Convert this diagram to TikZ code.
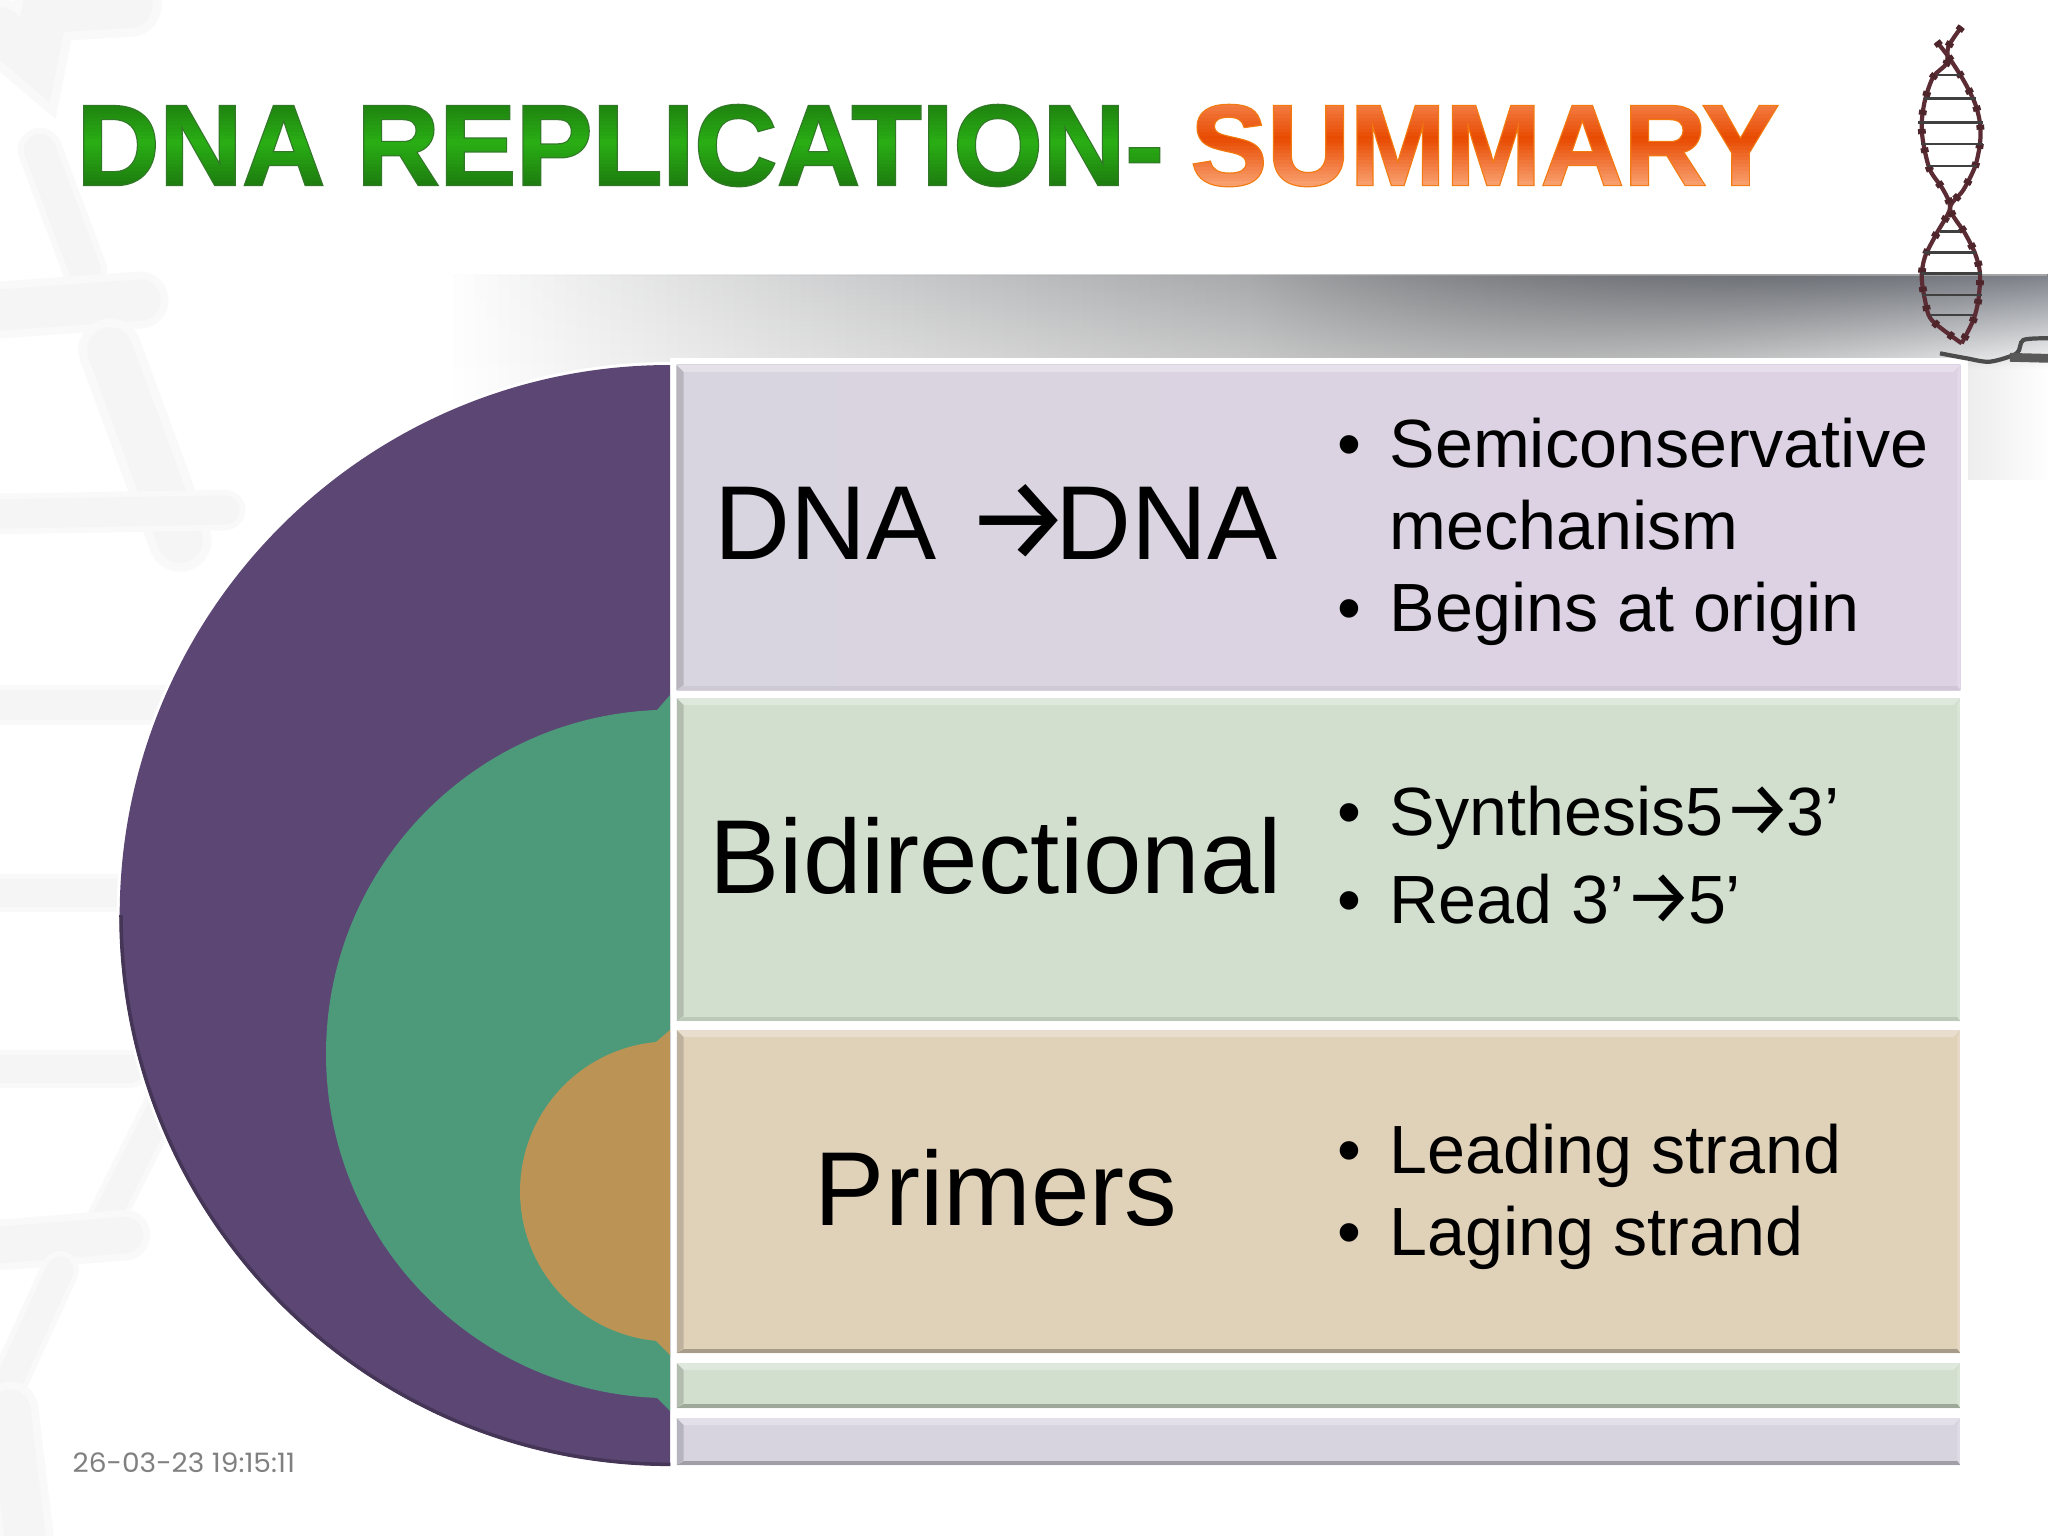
\documentclass[tikz,border=0pt]{standalone}
\usepackage{fontspec}
\usepackage{xcolor}
\usetikzlibrary{fadings}
\setmainfont{Liberation Sans}
\newfontface\titleface{Liberation Sans Bold}
\newfontfamily\stampfont[FakeStretch=1.05]{Poppins}
\newfontfamily\arrowfont[Scale=1.12]{Fira Sans}

\definecolor{outerpurple}{HTML}{5C4674}
\definecolor{midgreen}{HTML}{4D9A7B}
\definecolor{coreorange}{HTML}{BB9455}
\definecolor{panelgreen}{HTML}{D2DFCE}
\definecolor{paneltan}{HTML}{E0D1B9}
\definecolor{panellilac}{HTML}{D7D4E0}
\definecolor{helixred}{HTML}{5B2C33}
\definecolor{watermark}{HTML}{F6F5F6}
\definecolor{watermarksoft}{HTML}{FAF9FA}
\definecolor{bandtop}{HTML}{7F838B}
\definecolor{bandmid}{HTML}{CDCFD2}

\newcommand{\arr}{{\arrowfont →}}
\newcommand{\wmstroke}[2]{
    \draw[line width=#1*0.36pt, color=watermarksoft, line cap=round] #2;
    \draw[line width=#1*0.26pt, color=watermark, line cap=round] #2;
}

% thin strips of colour behind the title letters, one bp high
\gdef\stripsgreen{}
\gdef\stripsorange{}
\foreach \k in {-2,...,25} {
    \pgfmathsetmacro\tval{max(0,min(1,(\k+0.5)/24))}
    \pgfmathsetmacro\gmix{1-abs(2*\tval-1)}
    \pgfmathsetmacro\gr{(30+12*\gmix)/255}
    \pgfmathsetmacro\gg{(125+49*\gmix)/255}
    \pgfmathsetmacro\gb{(16+4*\gmix)/255}
    \xdef\stripsgreen{\stripsgreen\space\gr\space\gg\space\gb\space rg -330 \k\space 345 1.05 re f}
    \pgfmathsetmacro\omix{\tval<0.55 ? \tval/0.55 : (1-\tval)/0.45}
    \pgfmathsetmacro\oedger{\tval<0.55 ? 249 : 244}
    \pgfmathsetmacro\oedgeg{\tval<0.55 ? 160 : 131}
    \pgfmathsetmacro\oedgeb{\tval<0.55 ? 112 : 76}
    \pgfmathsetmacro\ogr{(\oedger+(232-\oedger)*\omix)/255}
    \pgfmathsetmacro\ogg{(\oedgeg+(74-\oedgeg)*\omix)/255}
    \pgfmathsetmacro\ogb{(\oedgeb+(0-\oedgeb)*\omix)/255}
    \xdef\stripsorange{\stripsorange\space\ogr\space\ogg\space\ogb\space rg -330 \k\space 345 1.05 re f}
}
\newcommand{\gradtitle}[3]{\special{pdf:code q 6 Tr 0.7 w #1 RG}#3\special{pdf:content #2}\special{pdf:code Q}}

\pgfdeclarehorizontalshading{bandfadeshade}{100bp}{color(0bp)=(pgftransparent!100); color(25bp)=(pgftransparent!100); color(50bp)=(pgftransparent!72); color(75bp)=(pgftransparent!0); color(100bp)=(pgftransparent!0)}
\pgfdeclarefading{bandfade}{\pgfuseshading{bandfadeshade}}
\pgfdeclareverticalshading{bandshade}{100bp}{color(0bp)=(white); color(52bp)=(white); color(61bp)=(bandmid); color(75bp)=(bandtop); color(100bp)=(bandtop)}

\begin{document}
\begin{tikzpicture}[x=0.01cm,y=-0.01cm]
            \tikzset{strand/.style={line width=1.2pt, color=helixred}};
            \tikzset{beads/.style={line width=2.2pt, color=helixred!85!black, dash pattern=on 1.4pt off 4pt}};
            \tikzset{rung/.style={line width=0.8pt, color=black!75}};
            \tikzset{titletext/.style={anchor=base west, inner sep=0pt, font=\titleface\fontsize{32.6}{36}\selectfont}};
            \tikzset{maintext/.style={anchor=base, inner sep=0pt, font=\fontsize{29.9}{34}\selectfont}};
            \tikzset{itemtext/.style={anchor=base west, inner sep=0pt, font=\fontsize{19.4}{23}\selectfont}};
            \tikzset{panel/.style={inner sep=0pt, outer sep=0pt, minimum width=12.83cm, path picture={
                \fill[white,opacity=0.3] (path picture bounding box.north west) -- (path picture bounding box.north east)
                    -- ([shift={(-.07cm,-.07cm)}]path picture bounding box.north east) -- ([shift={(.07cm,-.07cm)}]path picture bounding box.north west) -- cycle;
                \fill[black,opacity=0.15] (path picture bounding box.north west) -- (path picture bounding box.south west)
                    -- ([shift={(.07cm,.05cm)}]path picture bounding box.south west) -- ([shift={(.07cm,-.07cm)}]path picture bounding box.north west) -- cycle;
                \fill[black,opacity=#1] (path picture bounding box.south west) -- (path picture bounding box.south east)
                    -- ([shift={(-.03cm,.04cm)}]path picture bounding box.south east) -- ([shift={(.07cm,.04cm)}]path picture bounding box.south west) -- cycle;
                \fill[white,opacity=0.2] (path picture bounding box.north east) -- (path picture bounding box.south east)
                    -- ([shift={(-.03cm,.04cm)}]path picture bounding box.south east) -- ([shift={(-.03cm,-.07cm)}]path picture bounding box.north east) -- cycle;
            }}};

            \useasboundingbox (0,0) rectangle (2048,1536);
            \fill[white] (0,0) rectangle (2048,1536);

            % faint molecule at the left
            \wmstroke{50}{(0,30) -- (35,60) -- (45,10) -- (130,5)}
            \wmstroke{35}{(40,150) -- (85,270)}
            \wmstroke{45}{(0,310) -- (140,300)}
            \wmstroke{50}{(110,350) -- (180,540)}
            \wmstroke{32}{(0,514) -- (225,510)}
            \wmstroke{32}{(0,705) -- (170,705)}
            \wmstroke{30}{(0,893) -- (125,893)}
            \wmstroke{30}{(0,1069) -- (130,1069)}
            \wmstroke{30}{(165,1100) -- (105,1220)}
            \wmstroke{40}{(0,1245) -- (125,1235)}
            \wmstroke{30}{(60,1270) -- (5,1390)}
            \wmstroke{45}{(10,1410) -- (25,1536)}

            % grey band below the title
            \fill[shading=bandshade, path fading=bandfade] (450,275) rectangle (2048,480);
            \draw[black!35, line width=0.6pt, path fading=bandfade] (450,275) -- (2048,275);

            % title
            \node[titletext] (titlea) at (76,185) {\gradtitle{0.2 0.47 0.16}{\stripsgreen}{DNA REPLICATION-}};
            \node[titletext] (titleb) at (1190,185) {\gradtitle{0.95 0.48 0.06}{\stripsorange}{SUMMARY}};

            % plate behind the panels
            \fill[white] (670,358) rectangle (1968,1473);

            % helix
            \begin{scope}[shift={(1850,0)},scale=1/3]
                \foreach \helixstyle in {strand,beads} {
                    \draw[\helixstyle] plot[smooth] coordinates {(335,80) (295,140) (290,190) (250,230) (225,300) (215,370) (220,430) (240,510) (280,570) (300,625) (260,700) (225,770) (215,830) (225,900) (245,960) (335,1030)};
                    \draw[\helixstyle] plot[smooth] coordinates {(260,125) (295,170) (340,240) (375,310) (390,370) (390,430) (375,500) (340,570) (300,625) (345,700) (375,760) (390,820) (385,900) (370,960) (335,1030)};
                }
                \foreach \rungy/\rungl/\rungr in {225/260/330,295/222/378,367/205/398,432/212/398,498/232/380,695/270/330,757/222/378,820/212/395,885/215/395,945/240/370}
                    \draw[rung] (\rungl,\rungy) -- (\rungr,\rungy);
                \draw[line width=1.2pt, black!70] plot[smooth] coordinates {(270,1060) (350,1075) (420,1085) (500,1060) (520,1020) (594,1015)};
                \draw[line width=2.5pt, black!65] (480,1072) -- (594,1075);
            \end{scope}

            % nested half discs
            \fill[white] (670,362) arc[start angle=90, end angle=270, radius=5.53cm] -- cycle;
            \fill[outerpurple] (670,365) arc[start angle=90, end angle=270, radius=5.5cm] -- cycle;
            \draw[outerpurple!75!black, line width=1pt] (121,915) arc[start angle=180, end angle=270, radius=5.49cm];
            \fill[midgreen] (670,695) -- (657,710) arc[start angle=92.2, end angle=267.8, radius=3.44cm] -- (670,1411) -- cycle;
            \fill[coreorange] (670,1030) -- (656,1042) arc[start angle=95.4, end angle=264.6, radius=1.5cm] -- (670,1355) -- cycle;

            % panels
            \node[panel=0.05, left color={rgb,255:red,217;green,213;blue,224}, right color={rgb,255:red,221;green,209;blue,228}, minimum height=3.25cm] (panela) at (1318.5,527.5) {};
            \node[panel=0.1, fill=panelgreen, minimum height=3.23cm] (panelb) at (1318.5,859.5) {};
            \node[panel=0.25, fill=paneltan, minimum height=3.23cm] (panelc) at (1318.5,1191.5) {};
            \node[panel=0.25, fill=panelgreen, minimum height=0.45cm] (paneld) at (1318.5,1385.5) {};
            \node[panel=0.25, fill=panellilac, minimum height=0.47cm] (panele) at (1318.5,1441.5) {};

            \node[maintext] (replab) at (996,559) {DNA \arr\kern-4.5pt DNA};
            \node[maintext] (bidlab) at (996,893) {Bidirectional};
            \node[maintext] (prilab) at (996,1225) {Primers};

            \node[itemtext] (buleta) at (1337,467) {•};
            \node[itemtext] (itema) at (1389,467) {Semiconservative};
            \node[itemtext] (itemb) at (1389,549) {mechanism};
            \node[itemtext] (buletb) at (1337,631) {•};
            \node[itemtext] (itemc) at (1389,631) {Begins at origin};
            \node[itemtext] (buletc) at (1337,835) {•};
            \node[itemtext] (itemd) at (1389,835) {Synthesis5\arr\kern-1.6pt 3’};
            \node[itemtext] (buletd) at (1337,923) {•};
            \node[itemtext] (iteme) at (1389,923) {Read 3’\arr\kern-1.6pt 5’};
            \node[itemtext] (bulete) at (1337,1173) {•};
            \node[itemtext] (itemf) at (1389,1173) {Leading strand};
            \node[itemtext] (buletf) at (1337,1255) {•};
            \node[itemtext] (itemg) at (1389,1255) {Laging strand};

            \node[anchor=base west, inner sep=0pt, text=black!50, font=\stampfont\fontsize{7.6}{9}\selectfont] (stamp) at (72,1472) {26-03-23 19:15:11};
\end{tikzpicture}
\end{document}
